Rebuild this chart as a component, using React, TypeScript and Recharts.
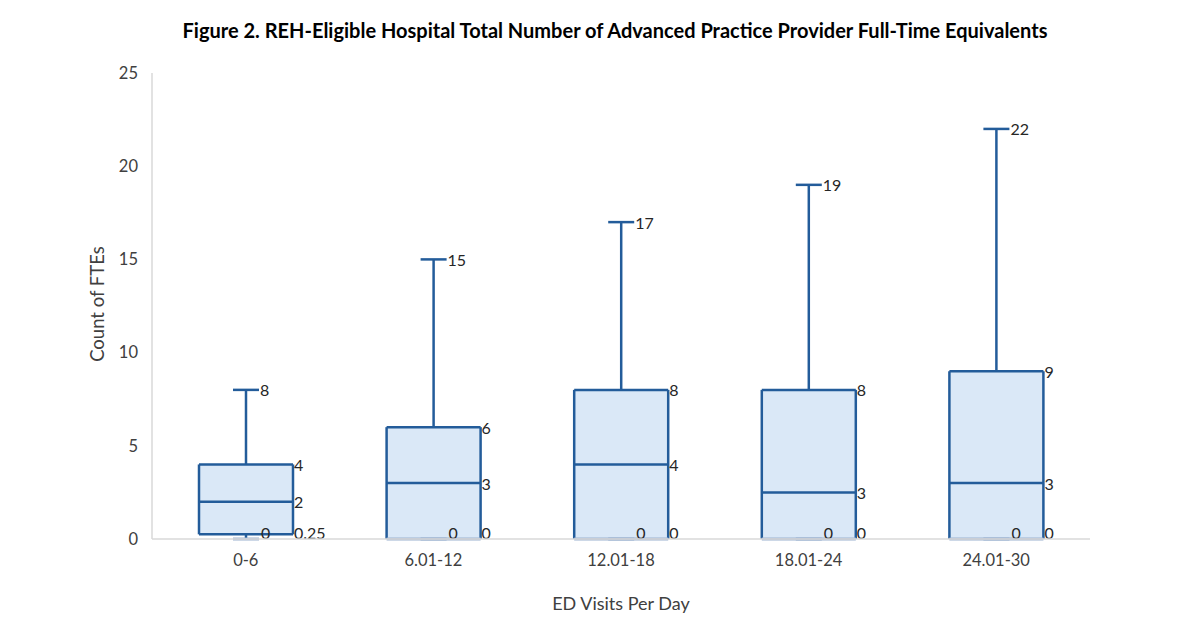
import React from 'react';
import { ComposedChart, Bar, XAxis, YAxis, Label } from 'recharts';

const categories = ['0-6', '6.01-12', '12.01-18', '18.01-24', '24.01-30'];
const minValues = [0, 0, 0, 0, 0];
const q1Values = [0.25, 0, 0, 0, 0];
const medianValues = [2, 3, 4, 2.5, 3];
const q3Values = [4, 6, 8, 8, 9];
const maxValues = [8, 15, 17, 19, 22];
const minLabels = ['0', '0', '0', '0', '0'];
const q1Labels = ['0.25', '0', '0', '0', '0'];
const medianLabels = ['2', '3', '4', '3', '3'];
const q3Labels = ['4', '6', '8', '8', '9'];
const maxLabels = ['8', '15', '17', '19', '22'];
const yTicks = [0, 5, 10, 15, 20, 25];

const data = categories.map((c, i) => ({
  category: c,
  range: [minValues[i], maxValues[i]],
  min: minValues[i],
  q1: q1Values[i],
  median: medianValues[i],
  q3: q3Values[i],
  max: maxValues[i],
  minLabel: minLabels[i],
  q1Label: q1Labels[i],
  medianLabel: medianLabels[i],
  q3Label: q3Labels[i],
  maxLabel: maxLabels[i],
}));

const DARK = '#235C9A';
const LIGHT = '#9BB1CF';
const FILL = '#DAE8F7';
const FONT = 'Lato, "Open Sans", sans-serif';

const BoxShape = (props: any) => {
  const { x, y, width, height, payload } = props;
  if (x == null || y == null) return null;
  const top = Math.min(y, y + height);
  const bottom = Math.max(y, y + height);
  const span = payload.max - payload.min || 1;
  const pix = (v: number) => bottom - ((v - payload.min) / span) * (bottom - top);
  const cx = x + width / 2;
  const right = x + width;
  const capHalf = 13;
  const yMax = pix(payload.max);
  const yQ3 = pix(payload.q3);
  const yMed = pix(payload.median);
  const yQ1 = pix(payload.q1);
  const yMin = pix(payload.min);
  const ly = (p: number) => Math.min(p, bottom - 7);
  const sw = 2.5;
  const txt = { fontFamily: FONT, fontSize: 16, fill: '#262626' } as any;
  const q1AtMin = Math.abs(yQ1 - yMin) < 1;
  return (
    <g>
      <rect x={x} y={yQ3} width={width} height={yQ1 - yQ3} fill={FILL} />
      <line x1={cx} x2={cx} y1={yQ3} y2={yMax} stroke={DARK} strokeWidth={sw} />
      <line x1={cx - capHalf} x2={cx + capHalf} y1={yMax} y2={yMax} stroke={DARK} strokeWidth={sw} />
      {!q1AtMin && <line x1={cx} x2={cx} y1={yQ1} y2={yMin} stroke={DARK} strokeWidth={sw} />}
      <line x1={cx - capHalf} x2={cx + capHalf} y1={yMin} y2={yMin} stroke={LIGHT} strokeWidth={3} />
      <line x1={x} x2={right} y1={yQ3} y2={yQ3} stroke={DARK} strokeWidth={sw} />
      <line x1={x} x2={x} y1={yQ3} y2={yQ1} stroke={DARK} strokeWidth={sw} />
      <line x1={right} x2={right} y1={yQ3} y2={yQ1} stroke={DARK} strokeWidth={sw} />
      <line x1={x} x2={right} y1={yQ1} y2={yQ1} stroke={q1AtMin ? LIGHT : DARK} strokeWidth={q1AtMin ? 3 : sw} />
      <line x1={x} x2={right} y1={yMed} y2={yMed} stroke={DARK} strokeWidth={sw} />
      <text x={cx + capHalf + 1} y={ly(yMax)} dominantBaseline="central" {...txt}>{payload.maxLabel}</text>
      <text x={right + 1} y={ly(yQ3)} dominantBaseline="central" {...txt}>{payload.q3Label}</text>
      <text x={right + 1} y={ly(yMed)} dominantBaseline="central" {...txt}>{payload.medianLabel}</text>
      <text x={right + 1} y={ly(yQ1)} dominantBaseline="central" {...txt}>{payload.q1Label}</text>
      <text x={cx + capHalf + 2} y={ly(yMin)} dominantBaseline="central" {...txt}>{payload.minLabel}</text>
    </g>
  );
};

const XTitle = (props: any) => {
  const vb = props.viewBox || {};
  const cx = (vb.x || 0) + (vb.width || 0) / 2;
  return (
    <text x={cx} y={603} textAnchor="middle" dominantBaseline="central" fontFamily={FONT} fontSize={18} fill="#404040">
      ED Visits Per Day
    </text>
  );
};

const YTitle = (props: any) => {
  const vb = props.viewBox || {};
  const cy = (vb.y || 0) + (vb.height || 0) / 2 - 2;
  return (
    <text
      x={97}
      y={cy}
      textAnchor="middle"
      dominantBaseline="central"
      transform={`rotate(-90 97 ${cy})`}
      fontFamily={FONT}
      fontSize={18.5}
      fill="#404040"
    >
      Count of FTEs
    </text>
  );
};

export default function App() {
  return (
    <div style={{ position: 'absolute', left: 0, top: 0, width: 1200, height: 628, background: '#fff', overflow: 'hidden' }}>
      <div
        style={{
          position: 'absolute',
          left: 0,
          top: 18,
          width: 1230,
          textAlign: 'center',
          fontFamily: FONT,
          fontWeight: 700,
          fontSize: 20,
          lineHeight: '24px',
          color: '#000',
        }}
      >
        Figure 2. REH-Eligible Hospital Total Number of Advanced Practice Provider Full-Time Equivalents
      </div>
      <ComposedChart width={1200} height={628} data={data} margin={{ top: 73, right: 110, bottom: 0, left: 92 }}>
        <XAxis
          dataKey="category"
          height={89}
          tickLine={false}
          tickSize={0}
          tickMargin={15}
          axisLine={{ stroke: '#D9D9D9', strokeWidth: 1.5 }}
          tick={{ fill: '#404040', fontSize: 16.5, fontFamily: FONT }}
        >
          <Label content={<XTitle />} />
        </XAxis>
        <YAxis
          width={60}
          domain={[0, 25]}
          ticks={yTicks}
          interval={0}
          tickLine={false}
          tickSize={0}
          tickMargin={14}
          axisLine={{ stroke: '#D9D9D9', strokeWidth: 1.5 }}
          tick={{ fill: '#404040', fontSize: 16.5, fontFamily: FONT }}
        >
          <Label content={<YTitle />} />
        </YAxis>
        <Bar dataKey="range" barSize={94} shape={<BoxShape />} isAnimationActive={false} />
      </ComposedChart>
    </div>
  );
}
